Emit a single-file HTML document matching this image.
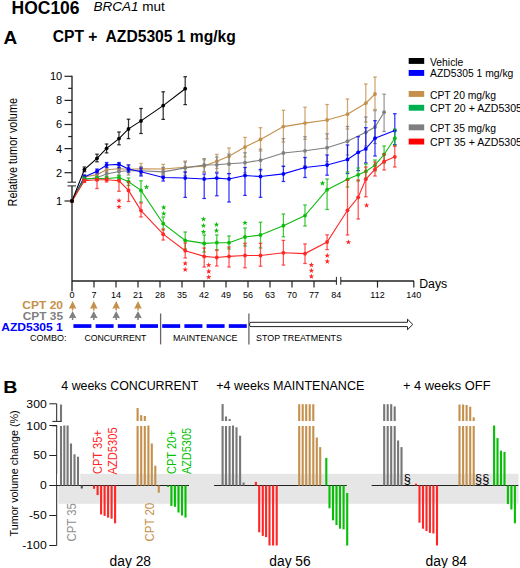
<!DOCTYPE html>
<html><head><meta charset="utf-8"><style>
html,body{margin:0;padding:0;background:#fff;}
svg{display:block;font-family:"Liberation Sans", sans-serif;}
</style></head><body>
<svg width="520" height="568" viewBox="0 0 520 568">
<rect width="520" height="568" fill="#fff"/>
<text x="11.5" y="13.5" font-size="17.5" fill="#000" font-weight="bold" font-style="normal" text-anchor="start" >HOC106</text>
<text x="93.4" y="10.5" font-size="13.5" fill="#000" font-weight="normal" font-style="normal" text-anchor="start" ><tspan font-style="italic">BRCA1</tspan> mut</text>
<text x="3.5" y="43.8" font-size="19" fill="#000" font-weight="bold" font-style="normal" text-anchor="start" >A</text>
<text x="52.8" y="42" font-size="16" fill="#000" font-weight="bold" font-style="normal" text-anchor="start" textLength="183" lengthAdjust="spacingAndGlyphs" >CPT +&#160; AZD5305 1 mg/kg</text>
<line x1="72.0" y1="75.7" x2="72.0" y2="182" stroke="#222" stroke-width="1.35" />
<line x1="64.5" y1="172.7" x2="72.0" y2="172.7" stroke="#222" stroke-width="1.2" />
<text x="62.2" y="176.6" font-size="11" fill="#000" font-weight="normal" font-style="normal" text-anchor="end" >2</text>
<line x1="68.2" y1="160.65" x2="72.0" y2="160.65" stroke="#222" stroke-width="1.2" />
<line x1="64.5" y1="148.60000000000002" x2="72.0" y2="148.60000000000002" stroke="#222" stroke-width="1.2" />
<text x="62.2" y="152.50000000000003" font-size="11" fill="#000" font-weight="normal" font-style="normal" text-anchor="end" >4</text>
<line x1="68.2" y1="136.55" x2="72.0" y2="136.55" stroke="#222" stroke-width="1.2" />
<line x1="64.5" y1="124.5" x2="72.0" y2="124.5" stroke="#222" stroke-width="1.2" />
<text x="62.2" y="128.4" font-size="11" fill="#000" font-weight="normal" font-style="normal" text-anchor="end" >6</text>
<line x1="68.2" y1="112.45" x2="72.0" y2="112.45" stroke="#222" stroke-width="1.2" />
<line x1="64.5" y1="100.4" x2="72.0" y2="100.4" stroke="#222" stroke-width="1.2" />
<text x="62.2" y="104.30000000000001" font-size="11" fill="#000" font-weight="normal" font-style="normal" text-anchor="end" >8</text>
<line x1="68.2" y1="88.35" x2="72.0" y2="88.35" stroke="#222" stroke-width="1.2" />
<line x1="64.5" y1="76.3" x2="72.0" y2="76.3" stroke="#222" stroke-width="1.2" />
<text x="62.2" y="80.2" font-size="11" fill="#000" font-weight="normal" font-style="normal" text-anchor="end" >10</text>
<line x1="72.0" y1="185.9" x2="72.0" y2="291.2" stroke="#222" stroke-width="1.35" />
<line x1="67.5" y1="182.2" x2="76" y2="182.2" stroke="#222" stroke-width="1" />
<line x1="67.5" y1="185.9" x2="76" y2="185.9" stroke="#222" stroke-width="1" />
<line x1="64.5" y1="201" x2="72.0" y2="201" stroke="#222" stroke-width="1.2" />
<text x="62.2" y="204.9" font-size="11" fill="#000" font-weight="normal" font-style="normal" text-anchor="end" >1</text>
<text transform="translate(16.9,152.2) rotate(-90)" font-size="12" text-anchor="middle" textLength="108.5" lengthAdjust="spacingAndGlyphs">Relative tumor volume</text>
<line x1="72.0" y1="281" x2="336.4" y2="281" stroke="#222" stroke-width="1.3" />
<line x1="340.8" y1="281" x2="414" y2="281" stroke="#222" stroke-width="1.3" />
<line x1="336.4" y1="276.9" x2="336.4" y2="284.8" stroke="#222" stroke-width="1" />
<line x1="340.8" y1="276.9" x2="340.8" y2="284.8" stroke="#222" stroke-width="1" />
<text x="72.0" y="298" font-size="9" fill="#000" font-weight="normal" font-style="normal" text-anchor="middle" >0</text>
<line x1="94.0" y1="281" x2="94.0" y2="287.6" stroke="#222" stroke-width="1.2" />
<text x="94.0" y="298" font-size="9" fill="#000" font-weight="normal" font-style="normal" text-anchor="middle" >7</text>
<line x1="116.0" y1="281" x2="116.0" y2="287.6" stroke="#222" stroke-width="1.2" />
<text x="116.0" y="298" font-size="9" fill="#000" font-weight="normal" font-style="normal" text-anchor="middle" >14</text>
<line x1="138.0" y1="281" x2="138.0" y2="287.6" stroke="#222" stroke-width="1.2" />
<text x="138.0" y="298" font-size="9" fill="#000" font-weight="normal" font-style="normal" text-anchor="middle" >21</text>
<line x1="160.0" y1="281" x2="160.0" y2="287.6" stroke="#222" stroke-width="1.2" />
<text x="160.0" y="298" font-size="9" fill="#000" font-weight="normal" font-style="normal" text-anchor="middle" >28</text>
<line x1="182.0" y1="281" x2="182.0" y2="287.6" stroke="#222" stroke-width="1.2" />
<text x="182.0" y="298" font-size="9" fill="#000" font-weight="normal" font-style="normal" text-anchor="middle" >35</text>
<line x1="204.0" y1="281" x2="204.0" y2="287.6" stroke="#222" stroke-width="1.2" />
<text x="204.0" y="298" font-size="9" fill="#000" font-weight="normal" font-style="normal" text-anchor="middle" >42</text>
<line x1="226.0" y1="281" x2="226.0" y2="287.6" stroke="#222" stroke-width="1.2" />
<text x="226.0" y="298" font-size="9" fill="#000" font-weight="normal" font-style="normal" text-anchor="middle" >49</text>
<line x1="248.0" y1="281" x2="248.0" y2="287.6" stroke="#222" stroke-width="1.2" />
<text x="248.0" y="298" font-size="9" fill="#000" font-weight="normal" font-style="normal" text-anchor="middle" >56</text>
<line x1="270.0" y1="281" x2="270.0" y2="287.6" stroke="#222" stroke-width="1.2" />
<text x="270.0" y="298" font-size="9" fill="#000" font-weight="normal" font-style="normal" text-anchor="middle" >63</text>
<line x1="292.0" y1="281" x2="292.0" y2="287.6" stroke="#222" stroke-width="1.2" />
<text x="292.0" y="298" font-size="9" fill="#000" font-weight="normal" font-style="normal" text-anchor="middle" >70</text>
<line x1="314.0" y1="281" x2="314.0" y2="287.6" stroke="#222" stroke-width="1.2" />
<text x="314.0" y="298" font-size="9" fill="#000" font-weight="normal" font-style="normal" text-anchor="middle" >77</text>
<text x="336.2" y="298" font-size="9" fill="#000" font-weight="normal" font-style="normal" text-anchor="middle" >84</text>
<line x1="377.5" y1="281" x2="377.5" y2="287.6" stroke="#222" stroke-width="1.2" />
<text x="377.5" y="298" font-size="9" fill="#000" font-weight="normal" font-style="normal" text-anchor="middle" >112</text>
<line x1="413.8" y1="281" x2="413.8" y2="287.6" stroke="#222" stroke-width="1.2" />
<text x="413.8" y="298" font-size="9" fill="#000" font-weight="normal" font-style="normal" text-anchor="middle" >140</text>
<text x="419.2" y="287.7" font-size="12.3" fill="#000" font-weight="normal" font-style="normal" text-anchor="start" >Days</text>
<line x1="84.4" y1="175" x2="84.4" y2="179" stroke="#c4904c" stroke-width="1.25" stroke-opacity="0.8"/>
<line x1="82.60000000000001" y1="175" x2="86.2" y2="175" stroke="#c4904c" stroke-width="1.25" stroke-opacity="0.8"/>
<line x1="82.60000000000001" y1="179" x2="86.2" y2="179" stroke="#c4904c" stroke-width="1.25" stroke-opacity="0.8"/>
<line x1="97" y1="171.5" x2="97" y2="177.5" stroke="#c4904c" stroke-width="1.25" stroke-opacity="0.8"/>
<line x1="95.2" y1="171.5" x2="98.8" y2="171.5" stroke="#c4904c" stroke-width="1.25" stroke-opacity="0.8"/>
<line x1="95.2" y1="177.5" x2="98.8" y2="177.5" stroke="#c4904c" stroke-width="1.25" stroke-opacity="0.8"/>
<line x1="106.6" y1="167" x2="106.6" y2="172.5" stroke="#c4904c" stroke-width="1.25" stroke-opacity="0.8"/>
<line x1="104.8" y1="167" x2="108.39999999999999" y2="167" stroke="#c4904c" stroke-width="1.25" stroke-opacity="0.8"/>
<line x1="104.8" y1="172.5" x2="108.39999999999999" y2="172.5" stroke="#c4904c" stroke-width="1.25" stroke-opacity="0.8"/>
<line x1="119" y1="166" x2="119" y2="171.5" stroke="#c4904c" stroke-width="1.25" stroke-opacity="0.8"/>
<line x1="117.2" y1="166" x2="120.8" y2="166" stroke="#c4904c" stroke-width="1.25" stroke-opacity="0.8"/>
<line x1="117.2" y1="171.5" x2="120.8" y2="171.5" stroke="#c4904c" stroke-width="1.25" stroke-opacity="0.8"/>
<line x1="128.5" y1="165.5" x2="128.5" y2="173" stroke="#c4904c" stroke-width="1.25" stroke-opacity="0.8"/>
<line x1="126.7" y1="165.5" x2="130.3" y2="165.5" stroke="#c4904c" stroke-width="1.25" stroke-opacity="0.8"/>
<line x1="126.7" y1="173" x2="130.3" y2="173" stroke="#c4904c" stroke-width="1.25" stroke-opacity="0.8"/>
<line x1="141" y1="163.5" x2="141" y2="174" stroke="#c4904c" stroke-width="1.25" stroke-opacity="0.8"/>
<line x1="139.2" y1="163.5" x2="142.8" y2="163.5" stroke="#c4904c" stroke-width="1.25" stroke-opacity="0.8"/>
<line x1="139.2" y1="174" x2="142.8" y2="174" stroke="#c4904c" stroke-width="1.25" stroke-opacity="0.8"/>
<line x1="163.2" y1="164.4" x2="163.2" y2="174" stroke="#c4904c" stroke-width="1.25" stroke-opacity="0.8"/>
<line x1="161.39999999999998" y1="164.4" x2="165.0" y2="164.4" stroke="#c4904c" stroke-width="1.25" stroke-opacity="0.8"/>
<line x1="161.39999999999998" y1="174" x2="165.0" y2="174" stroke="#c4904c" stroke-width="1.25" stroke-opacity="0.8"/>
<line x1="185.2" y1="161" x2="185.2" y2="172.5" stroke="#c4904c" stroke-width="1.25" stroke-opacity="0.8"/>
<line x1="183.39999999999998" y1="161" x2="187.0" y2="161" stroke="#c4904c" stroke-width="1.25" stroke-opacity="0.8"/>
<line x1="183.39999999999998" y1="172.5" x2="187.0" y2="172.5" stroke="#c4904c" stroke-width="1.25" stroke-opacity="0.8"/>
<line x1="204.2" y1="159.8" x2="204.2" y2="172" stroke="#c4904c" stroke-width="1.25" stroke-opacity="0.8"/>
<line x1="202.39999999999998" y1="159.8" x2="206.0" y2="159.8" stroke="#c4904c" stroke-width="1.25" stroke-opacity="0.8"/>
<line x1="202.39999999999998" y1="172" x2="206.0" y2="172" stroke="#c4904c" stroke-width="1.25" stroke-opacity="0.8"/>
<line x1="216.8" y1="154.4" x2="216.8" y2="168.5" stroke="#c4904c" stroke-width="1.25" stroke-opacity="0.8"/>
<line x1="215.0" y1="154.4" x2="218.60000000000002" y2="154.4" stroke="#c4904c" stroke-width="1.25" stroke-opacity="0.8"/>
<line x1="215.0" y1="168.5" x2="218.60000000000002" y2="168.5" stroke="#c4904c" stroke-width="1.25" stroke-opacity="0.8"/>
<line x1="229" y1="148" x2="229" y2="165" stroke="#c4904c" stroke-width="1.25" stroke-opacity="0.8"/>
<line x1="227.2" y1="148" x2="230.8" y2="148" stroke="#c4904c" stroke-width="1.25" stroke-opacity="0.8"/>
<line x1="227.2" y1="165" x2="230.8" y2="165" stroke="#c4904c" stroke-width="1.25" stroke-opacity="0.8"/>
<line x1="245" y1="137.4" x2="245" y2="156.8" stroke="#c4904c" stroke-width="1.25" stroke-opacity="0.8"/>
<line x1="243.2" y1="137.4" x2="246.8" y2="137.4" stroke="#c4904c" stroke-width="1.25" stroke-opacity="0.8"/>
<line x1="243.2" y1="156.8" x2="246.8" y2="156.8" stroke="#c4904c" stroke-width="1.25" stroke-opacity="0.8"/>
<line x1="260.5" y1="127.7" x2="260.5" y2="151" stroke="#c4904c" stroke-width="1.25" stroke-opacity="0.8"/>
<line x1="258.7" y1="127.7" x2="262.3" y2="127.7" stroke="#c4904c" stroke-width="1.25" stroke-opacity="0.8"/>
<line x1="258.7" y1="151" x2="262.3" y2="151" stroke="#c4904c" stroke-width="1.25" stroke-opacity="0.8"/>
<line x1="283.4" y1="110.3" x2="283.4" y2="142" stroke="#c4904c" stroke-width="1.25" stroke-opacity="0.8"/>
<line x1="281.59999999999997" y1="110.3" x2="285.2" y2="110.3" stroke="#c4904c" stroke-width="1.25" stroke-opacity="0.8"/>
<line x1="281.59999999999997" y1="142" x2="285.2" y2="142" stroke="#c4904c" stroke-width="1.25" stroke-opacity="0.8"/>
<line x1="305" y1="107.2" x2="305" y2="139.4" stroke="#c4904c" stroke-width="1.25" stroke-opacity="0.8"/>
<line x1="303.2" y1="107.2" x2="306.8" y2="107.2" stroke="#c4904c" stroke-width="1.25" stroke-opacity="0.8"/>
<line x1="303.2" y1="139.4" x2="306.8" y2="139.4" stroke="#c4904c" stroke-width="1.25" stroke-opacity="0.8"/>
<line x1="327.1" y1="104.5" x2="327.1" y2="138.7" stroke="#c4904c" stroke-width="1.25" stroke-opacity="0.8"/>
<line x1="325.3" y1="104.5" x2="328.90000000000003" y2="104.5" stroke="#c4904c" stroke-width="1.25" stroke-opacity="0.8"/>
<line x1="325.3" y1="138.7" x2="328.90000000000003" y2="138.7" stroke="#c4904c" stroke-width="1.25" stroke-opacity="0.8"/>
<line x1="347.5" y1="99" x2="347.5" y2="129" stroke="#c4904c" stroke-width="1.25" stroke-opacity="0.8"/>
<line x1="345.7" y1="99" x2="349.3" y2="99" stroke="#c4904c" stroke-width="1.25" stroke-opacity="0.8"/>
<line x1="345.7" y1="129" x2="349.3" y2="129" stroke="#c4904c" stroke-width="1.25" stroke-opacity="0.8"/>
<line x1="365.8" y1="84" x2="365.8" y2="122" stroke="#c4904c" stroke-width="1.25" stroke-opacity="0.8"/>
<line x1="364.0" y1="84" x2="367.6" y2="84" stroke="#c4904c" stroke-width="1.25" stroke-opacity="0.8"/>
<line x1="364.0" y1="122" x2="367.6" y2="122" stroke="#c4904c" stroke-width="1.25" stroke-opacity="0.8"/>
<line x1="375" y1="77" x2="375" y2="109.4" stroke="#c4904c" stroke-width="1.25" stroke-opacity="0.8"/>
<line x1="373.2" y1="77" x2="376.8" y2="77" stroke="#c4904c" stroke-width="1.25" stroke-opacity="0.8"/>
<line x1="373.2" y1="109.4" x2="376.8" y2="109.4" stroke="#c4904c" stroke-width="1.25" stroke-opacity="0.8"/>
<polyline points="72,201 84.4,177 97,174.6 106.6,169.8 119,168.7 128.5,169.2 141,168.7 163.2,169 185.2,167.3 204.2,166.1 216.8,161.2 229,156.3 245,147.1 260.5,139.4 283.4,126.6 305,123.1 327.1,120 347.5,114.2 365.8,103.2 375,94" fill="none" stroke="#c4904c" stroke-width="1.1"/>
<circle cx="72" cy="201" r="1.9" fill="#c4904c"/>
<circle cx="84.4" cy="177" r="1.9" fill="#c4904c"/>
<circle cx="97" cy="174.6" r="1.9" fill="#c4904c"/>
<circle cx="106.6" cy="169.8" r="1.9" fill="#c4904c"/>
<circle cx="119" cy="168.7" r="1.9" fill="#c4904c"/>
<circle cx="128.5" cy="169.2" r="1.9" fill="#c4904c"/>
<circle cx="141" cy="168.7" r="1.9" fill="#c4904c"/>
<circle cx="163.2" cy="169" r="1.9" fill="#c4904c"/>
<circle cx="185.2" cy="167.3" r="1.9" fill="#c4904c"/>
<circle cx="204.2" cy="166.1" r="1.9" fill="#c4904c"/>
<circle cx="216.8" cy="161.2" r="1.9" fill="#c4904c"/>
<circle cx="229" cy="156.3" r="1.9" fill="#c4904c"/>
<circle cx="245" cy="147.1" r="1.9" fill="#c4904c"/>
<circle cx="260.5" cy="139.4" r="1.9" fill="#c4904c"/>
<circle cx="283.4" cy="126.6" r="1.9" fill="#c4904c"/>
<circle cx="305" cy="123.1" r="1.9" fill="#c4904c"/>
<circle cx="327.1" cy="120" r="1.9" fill="#c4904c"/>
<circle cx="347.5" cy="114.2" r="1.9" fill="#c4904c"/>
<circle cx="365.8" cy="103.2" r="1.9" fill="#c4904c"/>
<circle cx="375" cy="94" r="1.9" fill="#c4904c"/>
<line x1="84.4" y1="178" x2="84.4" y2="182" stroke="#7f7f7f" stroke-width="1.25" stroke-opacity="0.8"/>
<line x1="82.60000000000001" y1="178" x2="86.2" y2="178" stroke="#7f7f7f" stroke-width="1.25" stroke-opacity="0.8"/>
<line x1="82.60000000000001" y1="182" x2="86.2" y2="182" stroke="#7f7f7f" stroke-width="1.25" stroke-opacity="0.8"/>
<line x1="97" y1="174.5" x2="97" y2="180.5" stroke="#7f7f7f" stroke-width="1.25" stroke-opacity="0.8"/>
<line x1="95.2" y1="174.5" x2="98.8" y2="174.5" stroke="#7f7f7f" stroke-width="1.25" stroke-opacity="0.8"/>
<line x1="95.2" y1="180.5" x2="98.8" y2="180.5" stroke="#7f7f7f" stroke-width="1.25" stroke-opacity="0.8"/>
<line x1="106.6" y1="171" x2="106.6" y2="177" stroke="#7f7f7f" stroke-width="1.25" stroke-opacity="0.8"/>
<line x1="104.8" y1="171" x2="108.39999999999999" y2="171" stroke="#7f7f7f" stroke-width="1.25" stroke-opacity="0.8"/>
<line x1="104.8" y1="177" x2="108.39999999999999" y2="177" stroke="#7f7f7f" stroke-width="1.25" stroke-opacity="0.8"/>
<line x1="119" y1="168" x2="119" y2="175" stroke="#7f7f7f" stroke-width="1.25" stroke-opacity="0.8"/>
<line x1="117.2" y1="168" x2="120.8" y2="168" stroke="#7f7f7f" stroke-width="1.25" stroke-opacity="0.8"/>
<line x1="117.2" y1="175" x2="120.8" y2="175" stroke="#7f7f7f" stroke-width="1.25" stroke-opacity="0.8"/>
<line x1="128.5" y1="167" x2="128.5" y2="175" stroke="#7f7f7f" stroke-width="1.25" stroke-opacity="0.8"/>
<line x1="126.7" y1="167" x2="130.3" y2="167" stroke="#7f7f7f" stroke-width="1.25" stroke-opacity="0.8"/>
<line x1="126.7" y1="175" x2="130.3" y2="175" stroke="#7f7f7f" stroke-width="1.25" stroke-opacity="0.8"/>
<line x1="141" y1="166.5" x2="141" y2="175" stroke="#7f7f7f" stroke-width="1.25" stroke-opacity="0.8"/>
<line x1="139.2" y1="166.5" x2="142.8" y2="166.5" stroke="#7f7f7f" stroke-width="1.25" stroke-opacity="0.8"/>
<line x1="139.2" y1="175" x2="142.8" y2="175" stroke="#7f7f7f" stroke-width="1.25" stroke-opacity="0.8"/>
<line x1="163.2" y1="167.3" x2="163.2" y2="174.2" stroke="#7f7f7f" stroke-width="1.25" stroke-opacity="0.8"/>
<line x1="161.39999999999998" y1="167.3" x2="165.0" y2="167.3" stroke="#7f7f7f" stroke-width="1.25" stroke-opacity="0.8"/>
<line x1="161.39999999999998" y1="174.2" x2="165.0" y2="174.2" stroke="#7f7f7f" stroke-width="1.25" stroke-opacity="0.8"/>
<line x1="185.2" y1="162" x2="185.2" y2="175.4" stroke="#7f7f7f" stroke-width="1.25" stroke-opacity="0.8"/>
<line x1="183.39999999999998" y1="162" x2="187.0" y2="162" stroke="#7f7f7f" stroke-width="1.25" stroke-opacity="0.8"/>
<line x1="183.39999999999998" y1="175.4" x2="187.0" y2="175.4" stroke="#7f7f7f" stroke-width="1.25" stroke-opacity="0.8"/>
<line x1="204.2" y1="158.6" x2="204.2" y2="172" stroke="#7f7f7f" stroke-width="1.25" stroke-opacity="0.8"/>
<line x1="202.39999999999998" y1="158.6" x2="206.0" y2="158.6" stroke="#7f7f7f" stroke-width="1.25" stroke-opacity="0.8"/>
<line x1="202.39999999999998" y1="172" x2="206.0" y2="172" stroke="#7f7f7f" stroke-width="1.25" stroke-opacity="0.8"/>
<line x1="216.8" y1="157" x2="216.8" y2="172" stroke="#7f7f7f" stroke-width="1.25" stroke-opacity="0.8"/>
<line x1="215.0" y1="157" x2="218.60000000000002" y2="157" stroke="#7f7f7f" stroke-width="1.25" stroke-opacity="0.8"/>
<line x1="215.0" y1="172" x2="218.60000000000002" y2="172" stroke="#7f7f7f" stroke-width="1.25" stroke-opacity="0.8"/>
<line x1="229" y1="154" x2="229" y2="173.6" stroke="#7f7f7f" stroke-width="1.25" stroke-opacity="0.8"/>
<line x1="227.2" y1="154" x2="230.8" y2="154" stroke="#7f7f7f" stroke-width="1.25" stroke-opacity="0.8"/>
<line x1="227.2" y1="173.6" x2="230.8" y2="173.6" stroke="#7f7f7f" stroke-width="1.25" stroke-opacity="0.8"/>
<line x1="245" y1="152.7" x2="245" y2="172.7" stroke="#7f7f7f" stroke-width="1.25" stroke-opacity="0.8"/>
<line x1="243.2" y1="152.7" x2="246.8" y2="152.7" stroke="#7f7f7f" stroke-width="1.25" stroke-opacity="0.8"/>
<line x1="243.2" y1="172.7" x2="246.8" y2="172.7" stroke="#7f7f7f" stroke-width="1.25" stroke-opacity="0.8"/>
<line x1="260.5" y1="149.2" x2="260.5" y2="170.8" stroke="#7f7f7f" stroke-width="1.25" stroke-opacity="0.8"/>
<line x1="258.7" y1="149.2" x2="262.3" y2="149.2" stroke="#7f7f7f" stroke-width="1.25" stroke-opacity="0.8"/>
<line x1="258.7" y1="170.8" x2="262.3" y2="170.8" stroke="#7f7f7f" stroke-width="1.25" stroke-opacity="0.8"/>
<line x1="283.4" y1="138.7" x2="283.4" y2="166.5" stroke="#7f7f7f" stroke-width="1.25" stroke-opacity="0.8"/>
<line x1="281.59999999999997" y1="138.7" x2="285.2" y2="138.7" stroke="#7f7f7f" stroke-width="1.25" stroke-opacity="0.8"/>
<line x1="281.59999999999997" y1="166.5" x2="285.2" y2="166.5" stroke="#7f7f7f" stroke-width="1.25" stroke-opacity="0.8"/>
<line x1="305" y1="136.7" x2="305" y2="165.6" stroke="#7f7f7f" stroke-width="1.25" stroke-opacity="0.8"/>
<line x1="303.2" y1="136.7" x2="306.8" y2="136.7" stroke="#7f7f7f" stroke-width="1.25" stroke-opacity="0.8"/>
<line x1="303.2" y1="165.6" x2="306.8" y2="165.6" stroke="#7f7f7f" stroke-width="1.25" stroke-opacity="0.8"/>
<line x1="327.1" y1="133.8" x2="327.1" y2="161.7" stroke="#7f7f7f" stroke-width="1.25" stroke-opacity="0.8"/>
<line x1="325.3" y1="133.8" x2="328.90000000000003" y2="133.8" stroke="#7f7f7f" stroke-width="1.25" stroke-opacity="0.8"/>
<line x1="325.3" y1="161.7" x2="328.90000000000003" y2="161.7" stroke="#7f7f7f" stroke-width="1.25" stroke-opacity="0.8"/>
<line x1="347.5" y1="126.5" x2="347.5" y2="155.1" stroke="#7f7f7f" stroke-width="1.25" stroke-opacity="0.8"/>
<line x1="345.7" y1="126.5" x2="349.3" y2="126.5" stroke="#7f7f7f" stroke-width="1.25" stroke-opacity="0.8"/>
<line x1="345.7" y1="155.1" x2="349.3" y2="155.1" stroke="#7f7f7f" stroke-width="1.25" stroke-opacity="0.8"/>
<line x1="365.8" y1="117" x2="365.8" y2="146" stroke="#7f7f7f" stroke-width="1.25" stroke-opacity="0.8"/>
<line x1="364.0" y1="117" x2="367.6" y2="117" stroke="#7f7f7f" stroke-width="1.25" stroke-opacity="0.8"/>
<line x1="364.0" y1="146" x2="367.6" y2="146" stroke="#7f7f7f" stroke-width="1.25" stroke-opacity="0.8"/>
<line x1="375" y1="110.6" x2="375" y2="143.5" stroke="#7f7f7f" stroke-width="1.25" stroke-opacity="0.8"/>
<line x1="373.2" y1="110.6" x2="376.8" y2="110.6" stroke="#7f7f7f" stroke-width="1.25" stroke-opacity="0.8"/>
<line x1="373.2" y1="143.5" x2="376.8" y2="143.5" stroke="#7f7f7f" stroke-width="1.25" stroke-opacity="0.8"/>
<line x1="384.1" y1="94.2" x2="384.1" y2="131.5" stroke="#7f7f7f" stroke-width="1.25" stroke-opacity="0.8"/>
<line x1="382.3" y1="94.2" x2="385.90000000000003" y2="94.2" stroke="#7f7f7f" stroke-width="1.25" stroke-opacity="0.8"/>
<line x1="382.3" y1="131.5" x2="385.90000000000003" y2="131.5" stroke="#7f7f7f" stroke-width="1.25" stroke-opacity="0.8"/>
<polyline points="72,201 84.4,179.8 97,177.5 106.6,174 119,171.5 128.5,170.8 141,170.8 163.2,171.9 185.2,167.9 204.2,165 216.8,164.8 229,163.8 245,162.7 260.5,160.2 283.4,153 305,150.8 327.1,147.7 347.5,141.2 365.8,132.3 375,127 384.1,112.2" fill="none" stroke="#7f7f7f" stroke-width="1.1"/>
<circle cx="72" cy="201" r="1.9" fill="#7f7f7f"/>
<circle cx="84.4" cy="179.8" r="1.9" fill="#7f7f7f"/>
<circle cx="97" cy="177.5" r="1.9" fill="#7f7f7f"/>
<circle cx="106.6" cy="174" r="1.9" fill="#7f7f7f"/>
<circle cx="119" cy="171.5" r="1.9" fill="#7f7f7f"/>
<circle cx="128.5" cy="170.8" r="1.9" fill="#7f7f7f"/>
<circle cx="141" cy="170.8" r="1.9" fill="#7f7f7f"/>
<circle cx="163.2" cy="171.9" r="1.9" fill="#7f7f7f"/>
<circle cx="185.2" cy="167.9" r="1.9" fill="#7f7f7f"/>
<circle cx="204.2" cy="165" r="1.9" fill="#7f7f7f"/>
<circle cx="216.8" cy="164.8" r="1.9" fill="#7f7f7f"/>
<circle cx="229" cy="163.8" r="1.9" fill="#7f7f7f"/>
<circle cx="245" cy="162.7" r="1.9" fill="#7f7f7f"/>
<circle cx="260.5" cy="160.2" r="1.9" fill="#7f7f7f"/>
<circle cx="283.4" cy="153" r="1.9" fill="#7f7f7f"/>
<circle cx="305" cy="150.8" r="1.9" fill="#7f7f7f"/>
<circle cx="327.1" cy="147.7" r="1.9" fill="#7f7f7f"/>
<circle cx="347.5" cy="141.2" r="1.9" fill="#7f7f7f"/>
<circle cx="365.8" cy="132.3" r="1.9" fill="#7f7f7f"/>
<circle cx="375" cy="127" r="1.9" fill="#7f7f7f"/>
<circle cx="384.1" cy="112.2" r="1.9" fill="#7f7f7f"/>
<line x1="84.4" y1="175" x2="84.4" y2="179" stroke="#0000ff" stroke-width="1.25" stroke-opacity="0.8"/>
<line x1="82.60000000000001" y1="175" x2="86.2" y2="175" stroke="#0000ff" stroke-width="1.25" stroke-opacity="0.8"/>
<line x1="82.60000000000001" y1="179" x2="86.2" y2="179" stroke="#0000ff" stroke-width="1.25" stroke-opacity="0.8"/>
<line x1="97" y1="169" x2="97" y2="173" stroke="#0000ff" stroke-width="1.25" stroke-opacity="0.8"/>
<line x1="95.2" y1="169" x2="98.8" y2="169" stroke="#0000ff" stroke-width="1.25" stroke-opacity="0.8"/>
<line x1="95.2" y1="173" x2="98.8" y2="173" stroke="#0000ff" stroke-width="1.25" stroke-opacity="0.8"/>
<line x1="106.6" y1="162.5" x2="106.6" y2="167.7" stroke="#0000ff" stroke-width="1.25" stroke-opacity="0.8"/>
<line x1="104.8" y1="162.5" x2="108.39999999999999" y2="162.5" stroke="#0000ff" stroke-width="1.25" stroke-opacity="0.8"/>
<line x1="104.8" y1="167.7" x2="108.39999999999999" y2="167.7" stroke="#0000ff" stroke-width="1.25" stroke-opacity="0.8"/>
<line x1="119" y1="162.5" x2="119" y2="167.7" stroke="#0000ff" stroke-width="1.25" stroke-opacity="0.8"/>
<line x1="117.2" y1="162.5" x2="120.8" y2="162.5" stroke="#0000ff" stroke-width="1.25" stroke-opacity="0.8"/>
<line x1="117.2" y1="167.7" x2="120.8" y2="167.7" stroke="#0000ff" stroke-width="1.25" stroke-opacity="0.8"/>
<line x1="128.5" y1="164.8" x2="128.5" y2="172" stroke="#0000ff" stroke-width="1.25" stroke-opacity="0.8"/>
<line x1="126.7" y1="164.8" x2="130.3" y2="164.8" stroke="#0000ff" stroke-width="1.25" stroke-opacity="0.8"/>
<line x1="126.7" y1="172" x2="130.3" y2="172" stroke="#0000ff" stroke-width="1.25" stroke-opacity="0.8"/>
<line x1="141" y1="168" x2="141" y2="176" stroke="#0000ff" stroke-width="1.25" stroke-opacity="0.8"/>
<line x1="139.2" y1="168" x2="142.8" y2="168" stroke="#0000ff" stroke-width="1.25" stroke-opacity="0.8"/>
<line x1="139.2" y1="176" x2="142.8" y2="176" stroke="#0000ff" stroke-width="1.25" stroke-opacity="0.8"/>
<line x1="163.2" y1="176" x2="163.2" y2="181" stroke="#0000ff" stroke-width="1.25" stroke-opacity="0.8"/>
<line x1="161.39999999999998" y1="176" x2="165.0" y2="176" stroke="#0000ff" stroke-width="1.25" stroke-opacity="0.8"/>
<line x1="161.39999999999998" y1="181" x2="165.0" y2="181" stroke="#0000ff" stroke-width="1.25" stroke-opacity="0.8"/>
<line x1="185.2" y1="171.9" x2="185.2" y2="197.4" stroke="#0000ff" stroke-width="1.25" stroke-opacity="0.8"/>
<line x1="183.39999999999998" y1="171.9" x2="187.0" y2="171.9" stroke="#0000ff" stroke-width="1.25" stroke-opacity="0.8"/>
<line x1="183.39999999999998" y1="197.4" x2="187.0" y2="197.4" stroke="#0000ff" stroke-width="1.25" stroke-opacity="0.8"/>
<line x1="204.2" y1="174" x2="204.2" y2="198.5" stroke="#0000ff" stroke-width="1.25" stroke-opacity="0.8"/>
<line x1="202.39999999999998" y1="174" x2="206.0" y2="174" stroke="#0000ff" stroke-width="1.25" stroke-opacity="0.8"/>
<line x1="202.39999999999998" y1="198.5" x2="206.0" y2="198.5" stroke="#0000ff" stroke-width="1.25" stroke-opacity="0.8"/>
<line x1="216.8" y1="173" x2="216.8" y2="195.8" stroke="#0000ff" stroke-width="1.25" stroke-opacity="0.8"/>
<line x1="215.0" y1="173" x2="218.60000000000002" y2="173" stroke="#0000ff" stroke-width="1.25" stroke-opacity="0.8"/>
<line x1="215.0" y1="195.8" x2="218.60000000000002" y2="195.8" stroke="#0000ff" stroke-width="1.25" stroke-opacity="0.8"/>
<line x1="229" y1="173.6" x2="229" y2="202" stroke="#0000ff" stroke-width="1.25" stroke-opacity="0.8"/>
<line x1="227.2" y1="173.6" x2="230.8" y2="173.6" stroke="#0000ff" stroke-width="1.25" stroke-opacity="0.8"/>
<line x1="227.2" y1="202" x2="230.8" y2="202" stroke="#0000ff" stroke-width="1.25" stroke-opacity="0.8"/>
<line x1="245" y1="167.5" x2="245" y2="195.4" stroke="#0000ff" stroke-width="1.25" stroke-opacity="0.8"/>
<line x1="243.2" y1="167.5" x2="246.8" y2="167.5" stroke="#0000ff" stroke-width="1.25" stroke-opacity="0.8"/>
<line x1="243.2" y1="195.4" x2="246.8" y2="195.4" stroke="#0000ff" stroke-width="1.25" stroke-opacity="0.8"/>
<line x1="260.5" y1="169.4" x2="260.5" y2="197.3" stroke="#0000ff" stroke-width="1.25" stroke-opacity="0.8"/>
<line x1="258.7" y1="169.4" x2="262.3" y2="169.4" stroke="#0000ff" stroke-width="1.25" stroke-opacity="0.8"/>
<line x1="258.7" y1="197.3" x2="262.3" y2="197.3" stroke="#0000ff" stroke-width="1.25" stroke-opacity="0.8"/>
<line x1="283.4" y1="166.2" x2="283.4" y2="181.5" stroke="#0000ff" stroke-width="1.25" stroke-opacity="0.8"/>
<line x1="281.59999999999997" y1="166.2" x2="285.2" y2="166.2" stroke="#0000ff" stroke-width="1.25" stroke-opacity="0.8"/>
<line x1="281.59999999999997" y1="181.5" x2="285.2" y2="181.5" stroke="#0000ff" stroke-width="1.25" stroke-opacity="0.8"/>
<line x1="305" y1="157.5" x2="305" y2="177.5" stroke="#0000ff" stroke-width="1.25" stroke-opacity="0.8"/>
<line x1="303.2" y1="157.5" x2="306.8" y2="157.5" stroke="#0000ff" stroke-width="1.25" stroke-opacity="0.8"/>
<line x1="303.2" y1="177.5" x2="306.8" y2="177.5" stroke="#0000ff" stroke-width="1.25" stroke-opacity="0.8"/>
<line x1="327.1" y1="155" x2="327.1" y2="175.2" stroke="#0000ff" stroke-width="1.25" stroke-opacity="0.8"/>
<line x1="325.3" y1="155" x2="328.90000000000003" y2="155" stroke="#0000ff" stroke-width="1.25" stroke-opacity="0.8"/>
<line x1="325.3" y1="175.2" x2="328.90000000000003" y2="175.2" stroke="#0000ff" stroke-width="1.25" stroke-opacity="0.8"/>
<line x1="347.5" y1="145" x2="347.5" y2="173.5" stroke="#0000ff" stroke-width="1.25" stroke-opacity="0.8"/>
<line x1="345.7" y1="145" x2="349.3" y2="145" stroke="#0000ff" stroke-width="1.25" stroke-opacity="0.8"/>
<line x1="345.7" y1="173.5" x2="349.3" y2="173.5" stroke="#0000ff" stroke-width="1.25" stroke-opacity="0.8"/>
<line x1="358.2" y1="136.7" x2="358.2" y2="170.6" stroke="#0000ff" stroke-width="1.25" stroke-opacity="0.8"/>
<line x1="356.4" y1="136.7" x2="360.0" y2="136.7" stroke="#0000ff" stroke-width="1.25" stroke-opacity="0.8"/>
<line x1="356.4" y1="170.6" x2="360.0" y2="170.6" stroke="#0000ff" stroke-width="1.25" stroke-opacity="0.8"/>
<line x1="365.8" y1="127.7" x2="365.8" y2="163" stroke="#0000ff" stroke-width="1.25" stroke-opacity="0.8"/>
<line x1="364.0" y1="127.7" x2="367.6" y2="127.7" stroke="#0000ff" stroke-width="1.25" stroke-opacity="0.8"/>
<line x1="364.0" y1="163" x2="367.6" y2="163" stroke="#0000ff" stroke-width="1.25" stroke-opacity="0.8"/>
<line x1="375" y1="120.7" x2="375" y2="156" stroke="#0000ff" stroke-width="1.25" stroke-opacity="0.8"/>
<line x1="373.2" y1="120.7" x2="376.8" y2="120.7" stroke="#0000ff" stroke-width="1.25" stroke-opacity="0.8"/>
<line x1="373.2" y1="156" x2="376.8" y2="156" stroke="#0000ff" stroke-width="1.25" stroke-opacity="0.8"/>
<line x1="394.8" y1="113.7" x2="394.8" y2="144.6" stroke="#0000ff" stroke-width="1.25" stroke-opacity="0.8"/>
<line x1="393.0" y1="113.7" x2="396.6" y2="113.7" stroke="#0000ff" stroke-width="1.25" stroke-opacity="0.8"/>
<line x1="393.0" y1="144.6" x2="396.6" y2="144.6" stroke="#0000ff" stroke-width="1.25" stroke-opacity="0.8"/>
<polyline points="72,201 84.4,176.9 97,171.2 106.6,165 119,164.4 128.5,169 141,171.8 163.2,177.5 185.2,178 204.2,179 216.8,178.1 229,179 245,175.5 260.5,176.5 283.4,173.9 305,167.5 327.1,165 347.5,159.5 358.2,152.3 365.8,148.9 375,138.2 394.8,130.6" fill="none" stroke="#0000ff" stroke-width="1.1"/>
<circle cx="72" cy="201" r="1.9" fill="#0000ff"/>
<circle cx="84.4" cy="176.9" r="1.9" fill="#0000ff"/>
<circle cx="97" cy="171.2" r="1.9" fill="#0000ff"/>
<circle cx="106.6" cy="165" r="1.9" fill="#0000ff"/>
<circle cx="119" cy="164.4" r="1.9" fill="#0000ff"/>
<circle cx="128.5" cy="169" r="1.9" fill="#0000ff"/>
<circle cx="141" cy="171.8" r="1.9" fill="#0000ff"/>
<circle cx="163.2" cy="177.5" r="1.9" fill="#0000ff"/>
<circle cx="185.2" cy="178" r="1.9" fill="#0000ff"/>
<circle cx="204.2" cy="179" r="1.9" fill="#0000ff"/>
<circle cx="216.8" cy="178.1" r="1.9" fill="#0000ff"/>
<circle cx="229" cy="179" r="1.9" fill="#0000ff"/>
<circle cx="245" cy="175.5" r="1.9" fill="#0000ff"/>
<circle cx="260.5" cy="176.5" r="1.9" fill="#0000ff"/>
<circle cx="283.4" cy="173.9" r="1.9" fill="#0000ff"/>
<circle cx="305" cy="167.5" r="1.9" fill="#0000ff"/>
<circle cx="327.1" cy="165" r="1.9" fill="#0000ff"/>
<circle cx="347.5" cy="159.5" r="1.9" fill="#0000ff"/>
<circle cx="358.2" cy="152.3" r="1.9" fill="#0000ff"/>
<circle cx="365.8" cy="148.9" r="1.9" fill="#0000ff"/>
<circle cx="375" cy="138.2" r="1.9" fill="#0000ff"/>
<circle cx="394.8" cy="130.6" r="1.9" fill="#0000ff"/>
<line x1="84.4" y1="177" x2="84.4" y2="180.5" stroke="#0dbb0d" stroke-width="1.25" stroke-opacity="0.8"/>
<line x1="82.60000000000001" y1="177" x2="86.2" y2="177" stroke="#0dbb0d" stroke-width="1.25" stroke-opacity="0.8"/>
<line x1="82.60000000000001" y1="180.5" x2="86.2" y2="180.5" stroke="#0dbb0d" stroke-width="1.25" stroke-opacity="0.8"/>
<line x1="97" y1="176.5" x2="97" y2="180.5" stroke="#0dbb0d" stroke-width="1.25" stroke-opacity="0.8"/>
<line x1="95.2" y1="176.5" x2="98.8" y2="176.5" stroke="#0dbb0d" stroke-width="1.25" stroke-opacity="0.8"/>
<line x1="95.2" y1="180.5" x2="98.8" y2="180.5" stroke="#0dbb0d" stroke-width="1.25" stroke-opacity="0.8"/>
<line x1="106.6" y1="176.5" x2="106.6" y2="180.5" stroke="#0dbb0d" stroke-width="1.25" stroke-opacity="0.8"/>
<line x1="104.8" y1="176.5" x2="108.39999999999999" y2="176.5" stroke="#0dbb0d" stroke-width="1.25" stroke-opacity="0.8"/>
<line x1="104.8" y1="180.5" x2="108.39999999999999" y2="180.5" stroke="#0dbb0d" stroke-width="1.25" stroke-opacity="0.8"/>
<line x1="119" y1="175.5" x2="119" y2="179.5" stroke="#0dbb0d" stroke-width="1.25" stroke-opacity="0.8"/>
<line x1="117.2" y1="175.5" x2="120.8" y2="175.5" stroke="#0dbb0d" stroke-width="1.25" stroke-opacity="0.8"/>
<line x1="117.2" y1="179.5" x2="120.8" y2="179.5" stroke="#0dbb0d" stroke-width="1.25" stroke-opacity="0.8"/>
<line x1="128.5" y1="178" x2="128.5" y2="185.5" stroke="#0dbb0d" stroke-width="1.25" stroke-opacity="0.8"/>
<line x1="126.7" y1="178" x2="130.3" y2="178" stroke="#0dbb0d" stroke-width="1.25" stroke-opacity="0.8"/>
<line x1="126.7" y1="185.5" x2="130.3" y2="185.5" stroke="#0dbb0d" stroke-width="1.25" stroke-opacity="0.8"/>
<line x1="141" y1="180.8" x2="141" y2="202" stroke="#0dbb0d" stroke-width="1.25" stroke-opacity="0.8"/>
<line x1="139.2" y1="180.8" x2="142.8" y2="180.8" stroke="#0dbb0d" stroke-width="1.25" stroke-opacity="0.8"/>
<line x1="139.2" y1="202" x2="142.8" y2="202" stroke="#0dbb0d" stroke-width="1.25" stroke-opacity="0.8"/>
<line x1="163.2" y1="217" x2="163.2" y2="230" stroke="#0dbb0d" stroke-width="1.25" stroke-opacity="0.8"/>
<line x1="161.39999999999998" y1="217" x2="165.0" y2="217" stroke="#0dbb0d" stroke-width="1.25" stroke-opacity="0.8"/>
<line x1="161.39999999999998" y1="230" x2="165.0" y2="230" stroke="#0dbb0d" stroke-width="1.25" stroke-opacity="0.8"/>
<line x1="185.2" y1="232" x2="185.2" y2="249" stroke="#0dbb0d" stroke-width="1.25" stroke-opacity="0.8"/>
<line x1="183.39999999999998" y1="232" x2="187.0" y2="232" stroke="#0dbb0d" stroke-width="1.25" stroke-opacity="0.8"/>
<line x1="183.39999999999998" y1="249" x2="187.0" y2="249" stroke="#0dbb0d" stroke-width="1.25" stroke-opacity="0.8"/>
<line x1="204.2" y1="235" x2="204.2" y2="252" stroke="#0dbb0d" stroke-width="1.25" stroke-opacity="0.8"/>
<line x1="202.39999999999998" y1="235" x2="206.0" y2="235" stroke="#0dbb0d" stroke-width="1.25" stroke-opacity="0.8"/>
<line x1="202.39999999999998" y1="252" x2="206.0" y2="252" stroke="#0dbb0d" stroke-width="1.25" stroke-opacity="0.8"/>
<line x1="216.8" y1="235" x2="216.8" y2="250" stroke="#0dbb0d" stroke-width="1.25" stroke-opacity="0.8"/>
<line x1="215.0" y1="235" x2="218.60000000000002" y2="235" stroke="#0dbb0d" stroke-width="1.25" stroke-opacity="0.8"/>
<line x1="215.0" y1="250" x2="218.60000000000002" y2="250" stroke="#0dbb0d" stroke-width="1.25" stroke-opacity="0.8"/>
<line x1="229" y1="236" x2="229" y2="249" stroke="#0dbb0d" stroke-width="1.25" stroke-opacity="0.8"/>
<line x1="227.2" y1="236" x2="230.8" y2="236" stroke="#0dbb0d" stroke-width="1.25" stroke-opacity="0.8"/>
<line x1="227.2" y1="249" x2="230.8" y2="249" stroke="#0dbb0d" stroke-width="1.25" stroke-opacity="0.8"/>
<line x1="245" y1="228" x2="245" y2="246" stroke="#0dbb0d" stroke-width="1.25" stroke-opacity="0.8"/>
<line x1="243.2" y1="228" x2="246.8" y2="228" stroke="#0dbb0d" stroke-width="1.25" stroke-opacity="0.8"/>
<line x1="243.2" y1="246" x2="246.8" y2="246" stroke="#0dbb0d" stroke-width="1.25" stroke-opacity="0.8"/>
<line x1="260.5" y1="222.2" x2="260.5" y2="248" stroke="#0dbb0d" stroke-width="1.25" stroke-opacity="0.8"/>
<line x1="258.7" y1="222.2" x2="262.3" y2="222.2" stroke="#0dbb0d" stroke-width="1.25" stroke-opacity="0.8"/>
<line x1="258.7" y1="248" x2="262.3" y2="248" stroke="#0dbb0d" stroke-width="1.25" stroke-opacity="0.8"/>
<line x1="283.4" y1="214" x2="283.4" y2="236.8" stroke="#0dbb0d" stroke-width="1.25" stroke-opacity="0.8"/>
<line x1="281.59999999999997" y1="214" x2="285.2" y2="214" stroke="#0dbb0d" stroke-width="1.25" stroke-opacity="0.8"/>
<line x1="281.59999999999997" y1="236.8" x2="285.2" y2="236.8" stroke="#0dbb0d" stroke-width="1.25" stroke-opacity="0.8"/>
<line x1="305" y1="205" x2="305" y2="226" stroke="#0dbb0d" stroke-width="1.25" stroke-opacity="0.8"/>
<line x1="303.2" y1="205" x2="306.8" y2="205" stroke="#0dbb0d" stroke-width="1.25" stroke-opacity="0.8"/>
<line x1="303.2" y1="226" x2="306.8" y2="226" stroke="#0dbb0d" stroke-width="1.25" stroke-opacity="0.8"/>
<line x1="327.1" y1="179" x2="327.1" y2="209.5" stroke="#0dbb0d" stroke-width="1.25" stroke-opacity="0.8"/>
<line x1="325.3" y1="179" x2="328.90000000000003" y2="179" stroke="#0dbb0d" stroke-width="1.25" stroke-opacity="0.8"/>
<line x1="325.3" y1="209.5" x2="328.90000000000003" y2="209.5" stroke="#0dbb0d" stroke-width="1.25" stroke-opacity="0.8"/>
<line x1="347.5" y1="172" x2="347.5" y2="187" stroke="#0dbb0d" stroke-width="1.25" stroke-opacity="0.8"/>
<line x1="345.7" y1="172" x2="349.3" y2="172" stroke="#0dbb0d" stroke-width="1.25" stroke-opacity="0.8"/>
<line x1="345.7" y1="187" x2="349.3" y2="187" stroke="#0dbb0d" stroke-width="1.25" stroke-opacity="0.8"/>
<line x1="358.2" y1="168" x2="358.2" y2="181" stroke="#0dbb0d" stroke-width="1.25" stroke-opacity="0.8"/>
<line x1="356.4" y1="168" x2="360.0" y2="168" stroke="#0dbb0d" stroke-width="1.25" stroke-opacity="0.8"/>
<line x1="356.4" y1="181" x2="360.0" y2="181" stroke="#0dbb0d" stroke-width="1.25" stroke-opacity="0.8"/>
<line x1="365.8" y1="164" x2="365.8" y2="178" stroke="#0dbb0d" stroke-width="1.25" stroke-opacity="0.8"/>
<line x1="364.0" y1="164" x2="367.6" y2="164" stroke="#0dbb0d" stroke-width="1.25" stroke-opacity="0.8"/>
<line x1="364.0" y1="178" x2="367.6" y2="178" stroke="#0dbb0d" stroke-width="1.25" stroke-opacity="0.8"/>
<line x1="375" y1="160" x2="375" y2="171" stroke="#0dbb0d" stroke-width="1.25" stroke-opacity="0.8"/>
<line x1="373.2" y1="160" x2="376.8" y2="160" stroke="#0dbb0d" stroke-width="1.25" stroke-opacity="0.8"/>
<line x1="373.2" y1="171" x2="376.8" y2="171" stroke="#0dbb0d" stroke-width="1.25" stroke-opacity="0.8"/>
<line x1="384.1" y1="146" x2="384.1" y2="163" stroke="#0dbb0d" stroke-width="1.25" stroke-opacity="0.8"/>
<line x1="382.3" y1="146" x2="385.90000000000003" y2="146" stroke="#0dbb0d" stroke-width="1.25" stroke-opacity="0.8"/>
<line x1="382.3" y1="163" x2="385.90000000000003" y2="163" stroke="#0dbb0d" stroke-width="1.25" stroke-opacity="0.8"/>
<line x1="394.8" y1="129" x2="394.8" y2="146" stroke="#0dbb0d" stroke-width="1.25" stroke-opacity="0.8"/>
<line x1="393.0" y1="129" x2="396.6" y2="129" stroke="#0dbb0d" stroke-width="1.25" stroke-opacity="0.8"/>
<line x1="393.0" y1="146" x2="396.6" y2="146" stroke="#0dbb0d" stroke-width="1.25" stroke-opacity="0.8"/>
<polyline points="72,201 84.4,178.8 97,178.5 106.6,178.5 119,177.5 128.5,181.7 141,190.4 163.2,223.7 185.2,240.4 204.2,243.4 216.8,242.7 229,242.7 245,237 260.5,235 283.4,225.7 305,215.6 327.1,189.7 347.5,179.3 358.2,174.8 365.8,171.4 375,165.2 384.1,154.5 394.8,138.2" fill="none" stroke="#0dbb0d" stroke-width="1.1"/>
<circle cx="72" cy="201" r="1.9" fill="#0dbb0d"/>
<circle cx="84.4" cy="178.8" r="1.9" fill="#0dbb0d"/>
<circle cx="97" cy="178.5" r="1.9" fill="#0dbb0d"/>
<circle cx="106.6" cy="178.5" r="1.9" fill="#0dbb0d"/>
<circle cx="119" cy="177.5" r="1.9" fill="#0dbb0d"/>
<circle cx="128.5" cy="181.7" r="1.9" fill="#0dbb0d"/>
<circle cx="141" cy="190.4" r="1.9" fill="#0dbb0d"/>
<circle cx="163.2" cy="223.7" r="1.9" fill="#0dbb0d"/>
<circle cx="185.2" cy="240.4" r="1.9" fill="#0dbb0d"/>
<circle cx="204.2" cy="243.4" r="1.9" fill="#0dbb0d"/>
<circle cx="216.8" cy="242.7" r="1.9" fill="#0dbb0d"/>
<circle cx="229" cy="242.7" r="1.9" fill="#0dbb0d"/>
<circle cx="245" cy="237" r="1.9" fill="#0dbb0d"/>
<circle cx="260.5" cy="235" r="1.9" fill="#0dbb0d"/>
<circle cx="283.4" cy="225.7" r="1.9" fill="#0dbb0d"/>
<circle cx="305" cy="215.6" r="1.9" fill="#0dbb0d"/>
<circle cx="327.1" cy="189.7" r="1.9" fill="#0dbb0d"/>
<circle cx="347.5" cy="179.3" r="1.9" fill="#0dbb0d"/>
<circle cx="358.2" cy="174.8" r="1.9" fill="#0dbb0d"/>
<circle cx="365.8" cy="171.4" r="1.9" fill="#0dbb0d"/>
<circle cx="375" cy="165.2" r="1.9" fill="#0dbb0d"/>
<circle cx="384.1" cy="154.5" r="1.9" fill="#0dbb0d"/>
<circle cx="394.8" cy="138.2" r="1.9" fill="#0dbb0d"/>
<line x1="84.4" y1="179" x2="84.4" y2="182.5" stroke="#ff2626" stroke-width="1.25" stroke-opacity="0.8"/>
<line x1="82.60000000000001" y1="179" x2="86.2" y2="179" stroke="#ff2626" stroke-width="1.25" stroke-opacity="0.8"/>
<line x1="82.60000000000001" y1="182.5" x2="86.2" y2="182.5" stroke="#ff2626" stroke-width="1.25" stroke-opacity="0.8"/>
<line x1="97" y1="178.8" x2="97" y2="188.5" stroke="#ff2626" stroke-width="1.25" stroke-opacity="0.8"/>
<line x1="95.2" y1="178.8" x2="98.8" y2="178.8" stroke="#ff2626" stroke-width="1.25" stroke-opacity="0.8"/>
<line x1="95.2" y1="188.5" x2="98.8" y2="188.5" stroke="#ff2626" stroke-width="1.25" stroke-opacity="0.8"/>
<line x1="106.6" y1="178" x2="106.6" y2="182" stroke="#ff2626" stroke-width="1.25" stroke-opacity="0.8"/>
<line x1="104.8" y1="178" x2="108.39999999999999" y2="178" stroke="#ff2626" stroke-width="1.25" stroke-opacity="0.8"/>
<line x1="104.8" y1="182" x2="108.39999999999999" y2="182" stroke="#ff2626" stroke-width="1.25" stroke-opacity="0.8"/>
<line x1="119" y1="180" x2="119" y2="191.3" stroke="#ff2626" stroke-width="1.25" stroke-opacity="0.8"/>
<line x1="117.2" y1="180" x2="120.8" y2="180" stroke="#ff2626" stroke-width="1.25" stroke-opacity="0.8"/>
<line x1="117.2" y1="191.3" x2="120.8" y2="191.3" stroke="#ff2626" stroke-width="1.25" stroke-opacity="0.8"/>
<line x1="128.5" y1="181.7" x2="128.5" y2="201.5" stroke="#ff2626" stroke-width="1.25" stroke-opacity="0.8"/>
<line x1="126.7" y1="181.7" x2="130.3" y2="181.7" stroke="#ff2626" stroke-width="1.25" stroke-opacity="0.8"/>
<line x1="126.7" y1="201.5" x2="130.3" y2="201.5" stroke="#ff2626" stroke-width="1.25" stroke-opacity="0.8"/>
<line x1="141" y1="203" x2="141" y2="217" stroke="#ff2626" stroke-width="1.25" stroke-opacity="0.8"/>
<line x1="139.2" y1="203" x2="142.8" y2="203" stroke="#ff2626" stroke-width="1.25" stroke-opacity="0.8"/>
<line x1="139.2" y1="217" x2="142.8" y2="217" stroke="#ff2626" stroke-width="1.25" stroke-opacity="0.8"/>
<line x1="163.2" y1="229" x2="163.2" y2="240" stroke="#ff2626" stroke-width="1.25" stroke-opacity="0.8"/>
<line x1="161.39999999999998" y1="229" x2="165.0" y2="229" stroke="#ff2626" stroke-width="1.25" stroke-opacity="0.8"/>
<line x1="161.39999999999998" y1="240" x2="165.0" y2="240" stroke="#ff2626" stroke-width="1.25" stroke-opacity="0.8"/>
<line x1="185.2" y1="243" x2="185.2" y2="258" stroke="#ff2626" stroke-width="1.25" stroke-opacity="0.8"/>
<line x1="183.39999999999998" y1="243" x2="187.0" y2="243" stroke="#ff2626" stroke-width="1.25" stroke-opacity="0.8"/>
<line x1="183.39999999999998" y1="258" x2="187.0" y2="258" stroke="#ff2626" stroke-width="1.25" stroke-opacity="0.8"/>
<line x1="204.2" y1="248" x2="204.2" y2="267" stroke="#ff2626" stroke-width="1.25" stroke-opacity="0.8"/>
<line x1="202.39999999999998" y1="248" x2="206.0" y2="248" stroke="#ff2626" stroke-width="1.25" stroke-opacity="0.8"/>
<line x1="202.39999999999998" y1="267" x2="206.0" y2="267" stroke="#ff2626" stroke-width="1.25" stroke-opacity="0.8"/>
<line x1="216.8" y1="250" x2="216.8" y2="266" stroke="#ff2626" stroke-width="1.25" stroke-opacity="0.8"/>
<line x1="215.0" y1="250" x2="218.60000000000002" y2="250" stroke="#ff2626" stroke-width="1.25" stroke-opacity="0.8"/>
<line x1="215.0" y1="266" x2="218.60000000000002" y2="266" stroke="#ff2626" stroke-width="1.25" stroke-opacity="0.8"/>
<line x1="229" y1="247" x2="229" y2="267" stroke="#ff2626" stroke-width="1.25" stroke-opacity="0.8"/>
<line x1="227.2" y1="247" x2="230.8" y2="247" stroke="#ff2626" stroke-width="1.25" stroke-opacity="0.8"/>
<line x1="227.2" y1="267" x2="230.8" y2="267" stroke="#ff2626" stroke-width="1.25" stroke-opacity="0.8"/>
<line x1="245" y1="243.3" x2="245" y2="267.8" stroke="#ff2626" stroke-width="1.25" stroke-opacity="0.8"/>
<line x1="243.2" y1="243.3" x2="246.8" y2="243.3" stroke="#ff2626" stroke-width="1.25" stroke-opacity="0.8"/>
<line x1="243.2" y1="267.8" x2="246.8" y2="267.8" stroke="#ff2626" stroke-width="1.25" stroke-opacity="0.8"/>
<line x1="260.5" y1="243.3" x2="260.5" y2="266.2" stroke="#ff2626" stroke-width="1.25" stroke-opacity="0.8"/>
<line x1="258.7" y1="243.3" x2="262.3" y2="243.3" stroke="#ff2626" stroke-width="1.25" stroke-opacity="0.8"/>
<line x1="258.7" y1="266.2" x2="262.3" y2="266.2" stroke="#ff2626" stroke-width="1.25" stroke-opacity="0.8"/>
<line x1="283.4" y1="240.4" x2="283.4" y2="265.1" stroke="#ff2626" stroke-width="1.25" stroke-opacity="0.8"/>
<line x1="281.59999999999997" y1="240.4" x2="285.2" y2="240.4" stroke="#ff2626" stroke-width="1.25" stroke-opacity="0.8"/>
<line x1="281.59999999999997" y1="265.1" x2="285.2" y2="265.1" stroke="#ff2626" stroke-width="1.25" stroke-opacity="0.8"/>
<line x1="305" y1="243.9" x2="305" y2="263.5" stroke="#ff2626" stroke-width="1.25" stroke-opacity="0.8"/>
<line x1="303.2" y1="243.9" x2="306.8" y2="243.9" stroke="#ff2626" stroke-width="1.25" stroke-opacity="0.8"/>
<line x1="303.2" y1="263.5" x2="306.8" y2="263.5" stroke="#ff2626" stroke-width="1.25" stroke-opacity="0.8"/>
<line x1="327.1" y1="234.8" x2="327.1" y2="249.6" stroke="#ff2626" stroke-width="1.25" stroke-opacity="0.8"/>
<line x1="325.3" y1="234.8" x2="328.90000000000003" y2="234.8" stroke="#ff2626" stroke-width="1.25" stroke-opacity="0.8"/>
<line x1="325.3" y1="249.6" x2="328.90000000000003" y2="249.6" stroke="#ff2626" stroke-width="1.25" stroke-opacity="0.8"/>
<line x1="347.5" y1="180" x2="347.5" y2="235" stroke="#ff2626" stroke-width="1.25" stroke-opacity="0.8"/>
<line x1="345.7" y1="180" x2="349.3" y2="180" stroke="#ff2626" stroke-width="1.25" stroke-opacity="0.8"/>
<line x1="345.7" y1="235" x2="349.3" y2="235" stroke="#ff2626" stroke-width="1.25" stroke-opacity="0.8"/>
<line x1="358.2" y1="180" x2="358.2" y2="219" stroke="#ff2626" stroke-width="1.25" stroke-opacity="0.8"/>
<line x1="356.4" y1="180" x2="360.0" y2="180" stroke="#ff2626" stroke-width="1.25" stroke-opacity="0.8"/>
<line x1="356.4" y1="219" x2="360.0" y2="219" stroke="#ff2626" stroke-width="1.25" stroke-opacity="0.8"/>
<line x1="365.8" y1="167" x2="365.8" y2="196.8" stroke="#ff2626" stroke-width="1.25" stroke-opacity="0.8"/>
<line x1="364.0" y1="167" x2="367.6" y2="167" stroke="#ff2626" stroke-width="1.25" stroke-opacity="0.8"/>
<line x1="364.0" y1="196.8" x2="367.6" y2="196.8" stroke="#ff2626" stroke-width="1.25" stroke-opacity="0.8"/>
<line x1="375" y1="162" x2="375" y2="176" stroke="#ff2626" stroke-width="1.25" stroke-opacity="0.8"/>
<line x1="373.2" y1="162" x2="376.8" y2="162" stroke="#ff2626" stroke-width="1.25" stroke-opacity="0.8"/>
<line x1="373.2" y1="176" x2="376.8" y2="176" stroke="#ff2626" stroke-width="1.25" stroke-opacity="0.8"/>
<line x1="384.1" y1="154" x2="384.1" y2="170" stroke="#ff2626" stroke-width="1.25" stroke-opacity="0.8"/>
<line x1="382.3" y1="154" x2="385.90000000000003" y2="154" stroke="#ff2626" stroke-width="1.25" stroke-opacity="0.8"/>
<line x1="382.3" y1="170" x2="385.90000000000003" y2="170" stroke="#ff2626" stroke-width="1.25" stroke-opacity="0.8"/>
<line x1="394.8" y1="146" x2="394.8" y2="167" stroke="#ff2626" stroke-width="1.25" stroke-opacity="0.8"/>
<line x1="393.0" y1="146" x2="396.6" y2="146" stroke="#ff2626" stroke-width="1.25" stroke-opacity="0.8"/>
<line x1="393.0" y1="167" x2="396.6" y2="167" stroke="#ff2626" stroke-width="1.25" stroke-opacity="0.8"/>
<polyline points="72,201 84.4,180.8 97,179.8 106.6,179.8 119,180.8 128.5,190.4 141,210.6 163.2,234.2 185.2,250.7 204.2,256.4 216.8,257.5 229,256.4 245,255.5 260.5,255.5 283.4,252.8 305,253.6 327.1,242 347.5,210.3 358.2,197.3 365.8,179.3 375,169.2 384.1,161.5 394.8,156.8" fill="none" stroke="#ff2626" stroke-width="1.1"/>
<circle cx="72" cy="201" r="1.9" fill="#ff2626"/>
<circle cx="84.4" cy="180.8" r="1.9" fill="#ff2626"/>
<circle cx="97" cy="179.8" r="1.9" fill="#ff2626"/>
<circle cx="106.6" cy="179.8" r="1.9" fill="#ff2626"/>
<circle cx="119" cy="180.8" r="1.9" fill="#ff2626"/>
<circle cx="128.5" cy="190.4" r="1.9" fill="#ff2626"/>
<circle cx="141" cy="210.6" r="1.9" fill="#ff2626"/>
<circle cx="163.2" cy="234.2" r="1.9" fill="#ff2626"/>
<circle cx="185.2" cy="250.7" r="1.9" fill="#ff2626"/>
<circle cx="204.2" cy="256.4" r="1.9" fill="#ff2626"/>
<circle cx="216.8" cy="257.5" r="1.9" fill="#ff2626"/>
<circle cx="229" cy="256.4" r="1.9" fill="#ff2626"/>
<circle cx="245" cy="255.5" r="1.9" fill="#ff2626"/>
<circle cx="260.5" cy="255.5" r="1.9" fill="#ff2626"/>
<circle cx="283.4" cy="252.8" r="1.9" fill="#ff2626"/>
<circle cx="305" cy="253.6" r="1.9" fill="#ff2626"/>
<circle cx="327.1" cy="242" r="1.9" fill="#ff2626"/>
<circle cx="347.5" cy="210.3" r="1.9" fill="#ff2626"/>
<circle cx="358.2" cy="197.3" r="1.9" fill="#ff2626"/>
<circle cx="365.8" cy="179.3" r="1.9" fill="#ff2626"/>
<circle cx="375" cy="169.2" r="1.9" fill="#ff2626"/>
<circle cx="384.1" cy="161.5" r="1.9" fill="#ff2626"/>
<circle cx="394.8" cy="156.8" r="1.9" fill="#ff2626"/>
<line x1="84.4" y1="167" x2="84.4" y2="171.7" stroke="#000000" stroke-width="1.25" stroke-opacity="0.8"/>
<line x1="82.60000000000001" y1="167" x2="86.2" y2="167" stroke="#000000" stroke-width="1.25" stroke-opacity="0.8"/>
<line x1="82.60000000000001" y1="171.7" x2="86.2" y2="171.7" stroke="#000000" stroke-width="1.25" stroke-opacity="0.8"/>
<line x1="97" y1="154.2" x2="97" y2="161.8" stroke="#000000" stroke-width="1.25" stroke-opacity="0.8"/>
<line x1="95.2" y1="154.2" x2="98.8" y2="154.2" stroke="#000000" stroke-width="1.25" stroke-opacity="0.8"/>
<line x1="95.2" y1="161.8" x2="98.8" y2="161.8" stroke="#000000" stroke-width="1.25" stroke-opacity="0.8"/>
<line x1="106.6" y1="144" x2="106.6" y2="152.9" stroke="#000000" stroke-width="1.25" stroke-opacity="0.8"/>
<line x1="104.8" y1="144" x2="108.39999999999999" y2="144" stroke="#000000" stroke-width="1.25" stroke-opacity="0.8"/>
<line x1="104.8" y1="152.9" x2="108.39999999999999" y2="152.9" stroke="#000000" stroke-width="1.25" stroke-opacity="0.8"/>
<line x1="119" y1="132" x2="119" y2="144.8" stroke="#000000" stroke-width="1.25" stroke-opacity="0.8"/>
<line x1="117.2" y1="132" x2="120.8" y2="132" stroke="#000000" stroke-width="1.25" stroke-opacity="0.8"/>
<line x1="117.2" y1="144.8" x2="120.8" y2="144.8" stroke="#000000" stroke-width="1.25" stroke-opacity="0.8"/>
<line x1="128.5" y1="119.2" x2="128.5" y2="138.6" stroke="#000000" stroke-width="1.25" stroke-opacity="0.8"/>
<line x1="126.7" y1="119.2" x2="130.3" y2="119.2" stroke="#000000" stroke-width="1.25" stroke-opacity="0.8"/>
<line x1="126.7" y1="138.6" x2="130.3" y2="138.6" stroke="#000000" stroke-width="1.25" stroke-opacity="0.8"/>
<line x1="141" y1="108.5" x2="141" y2="133.5" stroke="#000000" stroke-width="1.25" stroke-opacity="0.8"/>
<line x1="139.2" y1="108.5" x2="142.8" y2="108.5" stroke="#000000" stroke-width="1.25" stroke-opacity="0.8"/>
<line x1="139.2" y1="133.5" x2="142.8" y2="133.5" stroke="#000000" stroke-width="1.25" stroke-opacity="0.8"/>
<line x1="163.2" y1="91.8" x2="163.2" y2="119.4" stroke="#000000" stroke-width="1.25" stroke-opacity="0.8"/>
<line x1="161.39999999999998" y1="91.8" x2="165.0" y2="91.8" stroke="#000000" stroke-width="1.25" stroke-opacity="0.8"/>
<line x1="161.39999999999998" y1="119.4" x2="165.0" y2="119.4" stroke="#000000" stroke-width="1.25" stroke-opacity="0.8"/>
<line x1="185.2" y1="76.7" x2="185.2" y2="104.6" stroke="#000000" stroke-width="1.25" stroke-opacity="0.8"/>
<line x1="183.39999999999998" y1="76.7" x2="187.0" y2="76.7" stroke="#000000" stroke-width="1.25" stroke-opacity="0.8"/>
<line x1="183.39999999999998" y1="104.6" x2="187.0" y2="104.6" stroke="#000000" stroke-width="1.25" stroke-opacity="0.8"/>
<polyline points="72,201 84.4,169.6 97,158.3 106.6,148.3 119,138.6 128.5,128.9 141,120.9 163.2,105.6 185.2,88.7" fill="none" stroke="#000000" stroke-width="1.1"/>
<circle cx="72" cy="201" r="1.9" fill="#000000"/>
<circle cx="84.4" cy="169.6" r="1.9" fill="#000000"/>
<circle cx="97" cy="158.3" r="1.9" fill="#000000"/>
<circle cx="106.6" cy="148.3" r="1.9" fill="#000000"/>
<circle cx="119" cy="138.6" r="1.9" fill="#000000"/>
<circle cx="128.5" cy="128.9" r="1.9" fill="#000000"/>
<circle cx="141" cy="120.9" r="1.9" fill="#000000"/>
<circle cx="163.2" cy="105.6" r="1.9" fill="#000000"/>
<circle cx="185.2" cy="88.7" r="1.9" fill="#000000"/>
<polygon points="119.00,197.70 119.68,199.67 121.76,199.70 120.09,200.96 120.70,202.95 119.00,201.75 117.30,202.95 117.91,200.96 116.24,199.70 118.32,199.67" fill="#ff2626"/>
<polygon points="119.00,204.00 119.68,205.97 121.76,206.00 120.09,207.26 120.70,209.25 119.00,208.05 117.30,209.25 117.91,207.26 116.24,206.00 118.32,205.97" fill="#ff2626"/>
<polygon points="185.20,260.60 185.88,262.57 187.96,262.60 186.29,263.86 186.90,265.85 185.20,264.65 183.50,265.85 184.11,263.86 182.44,262.60 184.52,262.57" fill="#ff2626"/>
<polygon points="185.20,266.80 185.88,268.77 187.96,268.80 186.29,270.06 186.90,272.05 185.20,270.85 183.50,272.05 184.11,270.06 182.44,268.80 184.52,268.77" fill="#ff2626"/>
<polygon points="208.70,262.30 209.38,264.27 211.46,264.30 209.79,265.56 210.40,267.55 208.70,266.35 207.00,267.55 207.61,265.56 205.94,264.30 208.02,264.27" fill="#ff2626"/>
<polygon points="208.70,268.60 209.38,270.57 211.46,270.60 209.79,271.86 210.40,273.85 208.70,272.65 207.00,273.85 207.61,271.86 205.94,270.60 208.02,270.57" fill="#ff2626"/>
<polygon points="208.70,274.30 209.38,276.27 211.46,276.30 209.79,277.56 210.40,279.55 208.70,278.35 207.00,279.55 207.61,277.56 205.94,276.30 208.02,276.27" fill="#ff2626"/>
<polygon points="311.40,262.10 312.08,264.07 314.16,264.10 312.49,265.36 313.10,267.35 311.40,266.15 309.70,267.35 310.31,265.36 308.64,264.10 310.72,264.07" fill="#ff2626"/>
<polygon points="311.40,267.80 312.08,269.77 314.16,269.80 312.49,271.06 313.10,273.05 311.40,271.85 309.70,273.05 310.31,271.06 308.64,269.80 310.72,269.77" fill="#ff2626"/>
<polygon points="311.40,273.60 312.08,275.57 314.16,275.60 312.49,276.86 313.10,278.85 311.40,277.65 309.70,278.85 310.31,276.86 308.64,275.60 310.72,275.57" fill="#ff2626"/>
<polygon points="327.30,252.80 327.98,254.77 330.06,254.80 328.39,256.06 329.00,258.05 327.30,256.85 325.60,258.05 326.21,256.06 324.54,254.80 326.62,254.77" fill="#ff2626"/>
<polygon points="327.30,258.60 327.98,260.57 330.06,260.60 328.39,261.86 329.00,263.85 327.30,262.65 325.60,263.85 326.21,261.86 324.54,260.60 326.62,260.57" fill="#ff2626"/>
<polygon points="348.40,239.30 349.08,241.27 351.16,241.30 349.49,242.56 350.10,244.55 348.40,243.35 346.70,244.55 347.31,242.56 345.64,241.30 347.72,241.27" fill="#ff2626"/>
<polygon points="366.60,202.50 367.28,204.47 369.36,204.50 367.69,205.76 368.30,207.75 366.60,206.55 364.90,207.75 365.51,205.76 363.84,204.50 365.92,204.47" fill="#ff2626"/>
<polygon points="146.50,184.30 147.18,186.27 149.26,186.30 147.59,187.56 148.20,189.55 146.50,188.35 144.80,189.55 145.41,187.56 143.74,186.30 145.82,186.27" fill="#0dbb0d"/>
<polygon points="163.70,204.60 164.38,206.57 166.46,206.60 164.79,207.86 165.40,209.85 163.70,208.65 162.00,209.85 162.61,207.86 160.94,206.60 163.02,206.57" fill="#0dbb0d"/>
<polygon points="163.70,210.80 164.38,212.77 166.46,212.80 164.79,214.06 165.40,216.05 163.70,214.85 162.00,216.05 162.61,214.06 160.94,212.80 163.02,212.77" fill="#0dbb0d"/>
<polygon points="203.50,216.30 204.18,218.27 206.26,218.30 204.59,219.56 205.20,221.55 203.50,220.35 201.80,221.55 202.41,219.56 200.74,218.30 202.82,218.27" fill="#0dbb0d"/>
<polygon points="203.50,222.80 204.18,224.77 206.26,224.80 204.59,226.06 205.20,228.05 203.50,226.85 201.80,228.05 202.41,226.06 200.74,224.80 202.82,224.77" fill="#0dbb0d"/>
<polygon points="203.50,229.00 204.18,230.97 206.26,231.00 204.59,232.26 205.20,234.25 203.50,233.05 201.80,234.25 202.41,232.26 200.74,231.00 202.82,230.97" fill="#0dbb0d"/>
<polygon points="216.50,221.70 217.18,223.67 219.26,223.70 217.59,224.96 218.20,226.95 216.50,225.75 214.80,226.95 215.41,224.96 213.74,223.70 215.82,223.67" fill="#0dbb0d"/>
<polygon points="216.50,227.80 217.18,229.77 219.26,229.80 217.59,231.06 218.20,233.05 216.50,231.85 214.80,233.05 215.41,231.06 213.74,229.80 215.82,229.77" fill="#0dbb0d"/>
<polygon points="245.00,220.00 245.68,221.97 247.76,222.00 246.09,223.26 246.70,225.25 245.00,224.05 243.30,225.25 243.91,223.26 242.24,222.00 244.32,221.97" fill="#0dbb0d"/>
<polygon points="322.50,180.40 323.18,182.37 325.26,182.40 323.59,183.66 324.20,185.65 322.50,184.45 320.80,185.65 321.41,183.66 319.74,182.40 321.82,182.37" fill="#0dbb0d"/>
<rect x="408.7" y="58" width="15.5" height="5.9" fill="#000000"/>
<text x="430.0" y="65.5" font-size="10.35" fill="#000" font-weight="normal" font-style="normal" text-anchor="start" >Vehicle</text>
<rect x="408.7" y="70" width="15.5" height="5.9" fill="#0000ff"/>
<text x="430.0" y="77.3" font-size="10.35" fill="#000" font-weight="normal" font-style="normal" text-anchor="start" >AZD5305 1 mg/kg</text>
<rect x="408.7" y="91" width="15.5" height="5.9" fill="#c4904c"/>
<text x="430.0" y="98.6" font-size="10.35" fill="#000" font-weight="normal" font-style="normal" text-anchor="start" >CPT 20 mg/kg</text>
<rect x="408.7" y="104.8" width="15.5" height="5.9" fill="#00b050"/>
<text x="430.0" y="112.3" font-size="10.35" fill="#000" font-weight="normal" font-style="normal" text-anchor="start" textLength="92" lengthAdjust="spacingAndGlyphs" >CPT 20 + AZD5305</text>
<rect x="408.7" y="124.4" width="15.5" height="5.9" fill="#7f7f7f"/>
<text x="430.0" y="131.9" font-size="10.35" fill="#000" font-weight="normal" font-style="normal" text-anchor="start" >CPT 35 mg/kg</text>
<rect x="408.7" y="138.6" width="15.5" height="5.9" fill="#ff0000"/>
<text x="430.0" y="146.20000000000002" font-size="10.35" fill="#000" font-weight="normal" font-style="normal" text-anchor="start" textLength="92" lengthAdjust="spacingAndGlyphs" >CPT 35 + AZD5305</text>
<path d="M72.6,301 L76.39999999999999,308.7 L73.35,308.2 L73.35,310.5 L71.85,310.5 L71.85,308.2 L68.8,308.7 Z" fill="#c4904c"/>
<path d="M72.6,311 L76.39999999999999,318.2 L73.35,317.7 L73.35,320 L71.85,320 L71.85,317.7 L68.8,318.2 Z" fill="#7f7f7f"/>
<path d="M93.8,301 L97.6,308.7 L94.55,308.2 L94.55,310.5 L93.05,310.5 L93.05,308.2 L90.0,308.7 Z" fill="#c4904c"/>
<path d="M93.8,311 L97.6,318.2 L94.55,317.7 L94.55,320 L93.05,320 L93.05,317.7 L90.0,318.2 Z" fill="#7f7f7f"/>
<path d="M116.2,301 L120.0,308.7 L116.95,308.2 L116.95,310.5 L115.45,310.5 L115.45,308.2 L112.4,308.7 Z" fill="#c4904c"/>
<path d="M116.2,311 L120.0,318.2 L116.95,317.7 L116.95,320 L115.45,320 L115.45,317.7 L112.4,318.2 Z" fill="#7f7f7f"/>
<path d="M138.0,301 L141.8,308.7 L138.75,308.2 L138.75,310.5 L137.25,310.5 L137.25,308.2 L134.2,308.7 Z" fill="#c4904c"/>
<path d="M138.0,311 L141.8,318.2 L138.75,317.7 L138.75,320 L137.25,320 L137.25,317.7 L134.2,318.2 Z" fill="#7f7f7f"/>
<text x="63" y="309.2" font-size="11" fill="#c4904c" font-weight="bold" font-style="normal" text-anchor="end" textLength="40.7" lengthAdjust="spacingAndGlyphs" >CPT 20</text>
<text x="63" y="320.4" font-size="11" fill="#7f7f7f" font-weight="bold" font-style="normal" text-anchor="end" textLength="40.2" lengthAdjust="spacingAndGlyphs" >CPT 35</text>
<text x="62.8" y="330.7" font-size="11" fill="#0000ff" font-weight="bold" font-style="normal" text-anchor="end" textLength="61.6" lengthAdjust="spacingAndGlyphs" >AZD5305 1</text>
<text x="66.4" y="341.4" font-size="9.6" fill="#000" font-weight="normal" font-style="normal" text-anchor="end" textLength="36.4" lengthAdjust="spacingAndGlyphs" >COMBO:</text>
<rect x="73.4" y="324.2" width="18" height="3.7" fill="#0000ff"/>
<rect x="95.60000000000001" y="324.2" width="18" height="3.7" fill="#0000ff"/>
<rect x="117.80000000000001" y="324.2" width="18" height="3.7" fill="#0000ff"/>
<rect x="140.0" y="324.2" width="18" height="3.7" fill="#0000ff"/>
<rect x="162.2" y="324.2" width="18" height="3.7" fill="#0000ff"/>
<rect x="184.4" y="324.2" width="18" height="3.7" fill="#0000ff"/>
<rect x="206.6" y="324.2" width="18" height="3.7" fill="#0000ff"/>
<rect x="228.8" y="324.2" width="18" height="3.7" fill="#0000ff"/>
<line x1="160.6" y1="313.5" x2="160.6" y2="344.4" stroke="#666" stroke-width="1.3" />
<line x1="248.9" y1="313.5" x2="248.9" y2="344.4" stroke="#666" stroke-width="1.3" />
<path d="M251,322.3 L407.5,322.3 L407.5,319.2 L412.8,324.45 L407.5,329.7 L407.5,326.6 L251,326.6 Q249.6,326.6 249.6,325.2 L249.6,323.7 Q249.6,322.3 251,322.3 Z" fill="none" stroke="#222" stroke-width="1"/>
<text x="115.4" y="341.4" font-size="9.6" fill="#000" font-weight="normal" font-style="normal" text-anchor="middle" textLength="62" lengthAdjust="spacingAndGlyphs" >CONCURRENT</text>
<text x="205.2" y="341.4" font-size="9.6" fill="#000" font-weight="normal" font-style="normal" text-anchor="middle" textLength="64.5" lengthAdjust="spacingAndGlyphs" >MAINTENANCE</text>
<text x="256.0" y="341.4" font-size="9.6" fill="#000" font-weight="normal" font-style="normal" text-anchor="start" textLength="86" lengthAdjust="spacingAndGlyphs" >STOP TREATMENTS</text>
<text transform="translate(3.2,392.9) scale(1.13,1)" font-size="17.4" font-weight="bold">B</text>
<text x="61.3" y="389.5" font-size="12.5" fill="#000" font-weight="normal" font-style="normal" text-anchor="start" textLength="137" lengthAdjust="spacingAndGlyphs" >4 weeks CONCURRENT</text>
<text x="216.3" y="389.5" font-size="12.5" fill="#000" font-weight="normal" font-style="normal" text-anchor="start" textLength="148" lengthAdjust="spacingAndGlyphs" >+4 weeks MAINTENANCE</text>
<text x="403.0" y="389.5" font-size="12.5" fill="#000" font-weight="normal" font-style="normal" text-anchor="start" textLength="87.5" lengthAdjust="spacingAndGlyphs" >+ 4 weeks OFF</text>
<rect x="58.5" y="473.8" width="460" height="30" fill="#e6e6e6"/>
<line x1="56.7" y1="403.8" x2="56.7" y2="421.4" stroke="#222" stroke-width="1" />
<line x1="49.3" y1="403.8" x2="56.7" y2="403.8" stroke="#222" stroke-width="1" />
<line x1="52.3" y1="421.4" x2="61.8" y2="421.4" stroke="#222" stroke-width="1" />
<line x1="52.3" y1="425.8" x2="57.2" y2="425.8" stroke="#222" stroke-width="1" />
<line x1="56.7" y1="425.8" x2="56.7" y2="545.5" stroke="#222" stroke-width="1" />
<line x1="49.3" y1="425.5" x2="56.7" y2="425.5" stroke="#222" stroke-width="1" />
<line x1="49.3" y1="455.5" x2="56.7" y2="455.5" stroke="#222" stroke-width="1" />
<line x1="49.3" y1="485.5" x2="56.7" y2="485.5" stroke="#222" stroke-width="1" />
<line x1="49.3" y1="515.5" x2="56.7" y2="515.5" stroke="#222" stroke-width="1" />
<line x1="49.3" y1="545.5" x2="56.7" y2="545.5" stroke="#222" stroke-width="1" />
<text transform="translate(46.7,407.85) scale(1.13,1)" font-size="10.8" text-anchor="end">300</text>
<text transform="translate(46.7,429.65) scale(1.13,1)" font-size="10.8" text-anchor="end">100</text>
<text transform="translate(46.7,459.35) scale(1.13,1)" font-size="10.8" text-anchor="end">50</text>
<text transform="translate(46.7,489.35) scale(1.13,1)" font-size="10.8" text-anchor="end">0</text>
<text transform="translate(46.7,519.35) scale(1.13,1)" font-size="10.8" text-anchor="end">-50</text>
<text transform="translate(46.7,549.35) scale(1.13,1)" font-size="10.8" text-anchor="end">-100</text>
<text transform="translate(17.6,473.4) rotate(-90)" font-size="11.2" text-anchor="middle" textLength="126" lengthAdjust="spacingAndGlyphs">Tumor volume change (%)</text>
<line x1="56.7" y1="485.5" x2="189" y2="485.5" stroke="#222" stroke-width="1" />
<line x1="214.1" y1="485.5" x2="346.8" y2="485.5" stroke="#222" stroke-width="1" />
<line x1="371.7" y1="485.5" x2="518.3" y2="485.5" stroke="#222" stroke-width="1" />
<rect x="57.2" y="473.8" width="23.1" height="11.2" fill="#fff"/>
<rect x="59.95" y="404.5" width="2.1" height="16.5" fill="#777777"/>
<rect x="59.95" y="426" width="2.1" height="59.5" fill="#777777"/>
<rect x="63.25" y="425.5" width="2.1" height="60.0" fill="#777777"/>
<rect x="66.55" y="425.5" width="2.1" height="60.0" fill="#777777"/>
<rect x="69.95" y="443.5" width="2.1" height="42.0" fill="#777777"/>
<rect x="73.45" y="454.3" width="2.1" height="31.19999999999999" fill="#777777"/>
<rect x="76.95" y="456.7" width="2.1" height="28.80000000000001" fill="#777777"/>
<rect x="80.75" y="485.5" width="2.1" height="3.0" fill="#555"/>
<rect x="92.95" y="485.5" width="2.1" height="3.3000000000000114" fill="#ff2626"/>
<rect x="96.55" y="485.5" width="2.1" height="9.600000000000023" fill="#ff2626"/>
<rect x="100.05" y="485.5" width="2.1" height="28.980000000000018" fill="#ff2626"/>
<rect x="103.55" y="485.5" width="2.1" height="30.41999999999996" fill="#ff2626"/>
<rect x="107.05" y="485.5" width="2.1" height="32.10000000000002" fill="#ff2626"/>
<rect x="110.55" y="485.5" width="2.1" height="33.17999999999995" fill="#ff2626"/>
<rect x="114.05" y="485.5" width="2.1" height="37.799999999999955" fill="#ff2626"/>
<rect x="136.54999999999998" y="408" width="2.1" height="13" fill="#c4904c"/>
<rect x="136.54999999999998" y="426" width="2.1" height="59.5" fill="#c4904c"/>
<rect x="140.14999999999998" y="415.2" width="2.1" height="5.800000000000011" fill="#c4904c"/>
<rect x="140.14999999999998" y="426" width="2.1" height="59.5" fill="#c4904c"/>
<rect x="143.75" y="416" width="2.1" height="5" fill="#c4904c"/>
<rect x="143.75" y="426" width="2.1" height="59.5" fill="#c4904c"/>
<rect x="147.35" y="425.5" width="2.1" height="60.0" fill="#c4904c"/>
<rect x="150.75" y="443.5" width="2.1" height="42.0" fill="#c4904c"/>
<rect x="154.25" y="465.7" width="2.1" height="19.80000000000001" fill="#c4904c"/>
<rect x="157.75" y="485.5" width="2.1" height="7.199999999999989" fill="#c4904c"/>
<rect x="167.04999999999998" y="485.5" width="2.1" height="1.5" fill="#06bf06"/>
<rect x="170.35" y="485.5" width="2.1" height="20.399999999999977" fill="#06bf06"/>
<rect x="173.85" y="485.5" width="2.1" height="21.30000000000001" fill="#06bf06"/>
<rect x="177.45" y="485.5" width="2.1" height="27.0" fill="#06bf06"/>
<rect x="180.95" y="485.5" width="2.1" height="30.0" fill="#06bf06"/>
<rect x="184.45" y="485.5" width="2.1" height="32.10000000000002" fill="#06bf06"/>
<rect x="221.54999999999998" y="404.1" width="2.1" height="16.899999999999977" fill="#777777"/>
<rect x="221.54999999999998" y="426" width="2.1" height="59.5" fill="#777777"/>
<rect x="224.95" y="416.5" width="2.1" height="4.5" fill="#777777"/>
<rect x="224.95" y="426" width="2.1" height="59.5" fill="#777777"/>
<rect x="228.54999999999998" y="419" width="2.1" height="2" fill="#777777"/>
<rect x="228.54999999999998" y="426" width="2.1" height="59.5" fill="#777777"/>
<rect x="231.95" y="425.5" width="2.1" height="60.0" fill="#777777"/>
<rect x="235.45" y="427.3" width="2.1" height="58.19999999999999" fill="#777777"/>
<rect x="239.04999999999998" y="435.7" width="2.1" height="49.80000000000001" fill="#777777"/>
<rect x="242.54999999999998" y="482.5" width="2.1" height="3.0" fill="#777777"/>
<rect x="254.85" y="481.9" width="2.1" height="3.6000000000000227" fill="#ff2626"/>
<rect x="258.15" y="485.5" width="2.1" height="46.799999999999955" fill="#ff2626"/>
<rect x="261.75" y="485.5" width="2.1" height="50.39999999999998" fill="#ff2626"/>
<rect x="265.05" y="485.5" width="2.1" height="51.60000000000002" fill="#ff2626"/>
<rect x="268.45" y="485.5" width="2.1" height="60.0" fill="#ff2626"/>
<rect x="272.05" y="485.5" width="2.1" height="60.0" fill="#ff2626"/>
<rect x="275.65" y="485.5" width="2.1" height="60.0" fill="#ff2626"/>
<rect x="298.15" y="404.2" width="2.1" height="16.80000000000001" fill="#c4904c"/>
<rect x="298.15" y="426" width="2.1" height="59.5" fill="#c4904c"/>
<rect x="301.65" y="404.2" width="2.1" height="16.80000000000001" fill="#c4904c"/>
<rect x="301.65" y="426" width="2.1" height="59.5" fill="#c4904c"/>
<rect x="305.15" y="404.2" width="2.1" height="16.80000000000001" fill="#c4904c"/>
<rect x="305.15" y="426" width="2.1" height="59.5" fill="#c4904c"/>
<rect x="308.65" y="404.2" width="2.1" height="16.80000000000001" fill="#c4904c"/>
<rect x="308.65" y="426" width="2.1" height="59.5" fill="#c4904c"/>
<rect x="312.25" y="404.2" width="2.1" height="16.80000000000001" fill="#c4904c"/>
<rect x="312.25" y="426" width="2.1" height="59.5" fill="#c4904c"/>
<rect x="315.75" y="437.5" width="2.1" height="48.0" fill="#c4904c"/>
<rect x="319.15" y="447.1" width="2.1" height="38.39999999999998" fill="#c4904c"/>
<rect x="325.25" y="457.9" width="2.1" height="27.600000000000023" fill="#06bf06"/>
<rect x="328.45" y="485.5" width="2.1" height="22.80000000000001" fill="#06bf06"/>
<rect x="331.95" y="485.5" width="2.1" height="34.799999999999955" fill="#06bf06"/>
<rect x="335.45" y="485.5" width="2.1" height="39.60000000000002" fill="#06bf06"/>
<rect x="338.95" y="485.5" width="2.1" height="43.200000000000045" fill="#06bf06"/>
<rect x="342.55" y="485.5" width="2.1" height="43.799999999999955" fill="#06bf06"/>
<rect x="346.15" y="493" width="2.1" height="52.5" fill="#06bf06"/>
<rect x="383.15" y="404.2" width="2.1" height="16.80000000000001" fill="#777777"/>
<rect x="383.15" y="426" width="2.1" height="59.5" fill="#777777"/>
<rect x="386.65" y="404.2" width="2.1" height="16.80000000000001" fill="#777777"/>
<rect x="386.65" y="426" width="2.1" height="59.5" fill="#777777"/>
<rect x="390.15" y="404.2" width="2.1" height="16.80000000000001" fill="#777777"/>
<rect x="390.15" y="426" width="2.1" height="59.5" fill="#777777"/>
<rect x="393.65" y="406.4" width="2.1" height="14.600000000000023" fill="#777777"/>
<rect x="393.65" y="426" width="2.1" height="59.5" fill="#777777"/>
<rect x="397.05" y="440.5" width="2.1" height="45.0" fill="#777777"/>
<rect x="400.45" y="447.1" width="2.1" height="38.39999999999998" fill="#777777"/>
<text x="407.3" y="482.5" font-size="12.8" fill="#000" font-weight="normal" font-style="normal" text-anchor="middle" >§</text>
<rect x="414.95" y="483.7" width="2.1" height="1.8000000000000114" fill="#ff2626"/>
<rect x="418.45" y="485.5" width="2.1" height="37.200000000000045" fill="#ff2626"/>
<rect x="421.95" y="485.5" width="2.1" height="43.200000000000045" fill="#ff2626"/>
<rect x="425.45" y="485.5" width="2.1" height="45.60000000000002" fill="#ff2626"/>
<rect x="428.84999999999997" y="485.5" width="2.1" height="47.39999999999998" fill="#ff2626"/>
<rect x="432.34999999999997" y="485.5" width="2.1" height="48.0" fill="#ff2626"/>
<rect x="435.95" y="485.5" width="2.1" height="60.0" fill="#ff2626"/>
<rect x="458.45" y="404.5" width="2.1" height="16.5" fill="#c4904c"/>
<rect x="458.45" y="426" width="2.1" height="59.5" fill="#c4904c"/>
<rect x="462.05" y="404.5" width="2.1" height="16.5" fill="#c4904c"/>
<rect x="462.05" y="426" width="2.1" height="59.5" fill="#c4904c"/>
<rect x="465.55" y="405" width="2.1" height="16" fill="#c4904c"/>
<rect x="465.55" y="426" width="2.1" height="59.5" fill="#c4904c"/>
<rect x="469.15" y="406.7" width="2.1" height="14.300000000000011" fill="#c4904c"/>
<rect x="469.15" y="426" width="2.1" height="59.5" fill="#c4904c"/>
<rect x="472.65" y="417.3" width="2.1" height="3.6999999999999886" fill="#c4904c"/>
<rect x="472.65" y="426" width="2.1" height="59.5" fill="#c4904c"/>
<text x="482.2" y="482.5" font-size="12.8" fill="#000" font-weight="normal" font-style="normal" text-anchor="middle" >§§</text>
<rect x="493.05" y="425.5" width="2.1" height="60.0" fill="#06bf06"/>
<rect x="496.45" y="438.1" width="2.1" height="47.39999999999998" fill="#06bf06"/>
<rect x="499.95" y="450.7" width="2.1" height="34.80000000000001" fill="#06bf06"/>
<rect x="503.45" y="451.9" width="2.1" height="33.60000000000002" fill="#06bf06"/>
<rect x="506.84999999999997" y="485.5" width="2.1" height="18.600000000000023" fill="#06bf06"/>
<rect x="510.34999999999997" y="485.5" width="2.1" height="24.0" fill="#06bf06"/>
<rect x="513.85" y="485.5" width="2.1" height="37.799999999999955" fill="#06bf06"/>
<text transform="translate(76.0,541.6) rotate(-90)" font-size="13.2" fill="#8f8f8f" text-anchor="start" textLength="38.5" lengthAdjust="spacingAndGlyphs">CPT 35</text>
<text transform="translate(101.9,474.1) rotate(-90)" font-size="12.4" fill="#ff2626" text-anchor="start" textLength="44" lengthAdjust="spacingAndGlyphs">CPT 35+</text>
<text transform="translate(117.2,474.4) rotate(-90)" font-size="12.6" fill="#ff2626" text-anchor="start" textLength="47" lengthAdjust="spacingAndGlyphs">AZD5305</text>
<text transform="translate(153.6,541.6) rotate(-90)" font-size="13.2" fill="#c4904c" text-anchor="start" textLength="38.8" lengthAdjust="spacingAndGlyphs">CPT 20</text>
<text transform="translate(176.4,474.1) rotate(-90)" font-size="12.4" fill="#06bf06" text-anchor="start" textLength="44" lengthAdjust="spacingAndGlyphs">CPT 20+</text>
<text transform="translate(191.2,474.1) rotate(-90)" font-size="12.6" fill="#06bf06" text-anchor="start" textLength="46.2" lengthAdjust="spacingAndGlyphs">AZD5305</text>
<text x="130.3" y="565.5" font-size="13.8" fill="#000" font-weight="normal" font-style="normal" text-anchor="middle" >day 28</text>
<text x="290" y="565.5" font-size="13.8" fill="#000" font-weight="normal" font-style="normal" text-anchor="middle" >day 56</text>
<text x="446.3" y="565.5" font-size="13.8" fill="#000" font-weight="normal" font-style="normal" text-anchor="middle" >day 84</text>
</svg>
</body></html>
